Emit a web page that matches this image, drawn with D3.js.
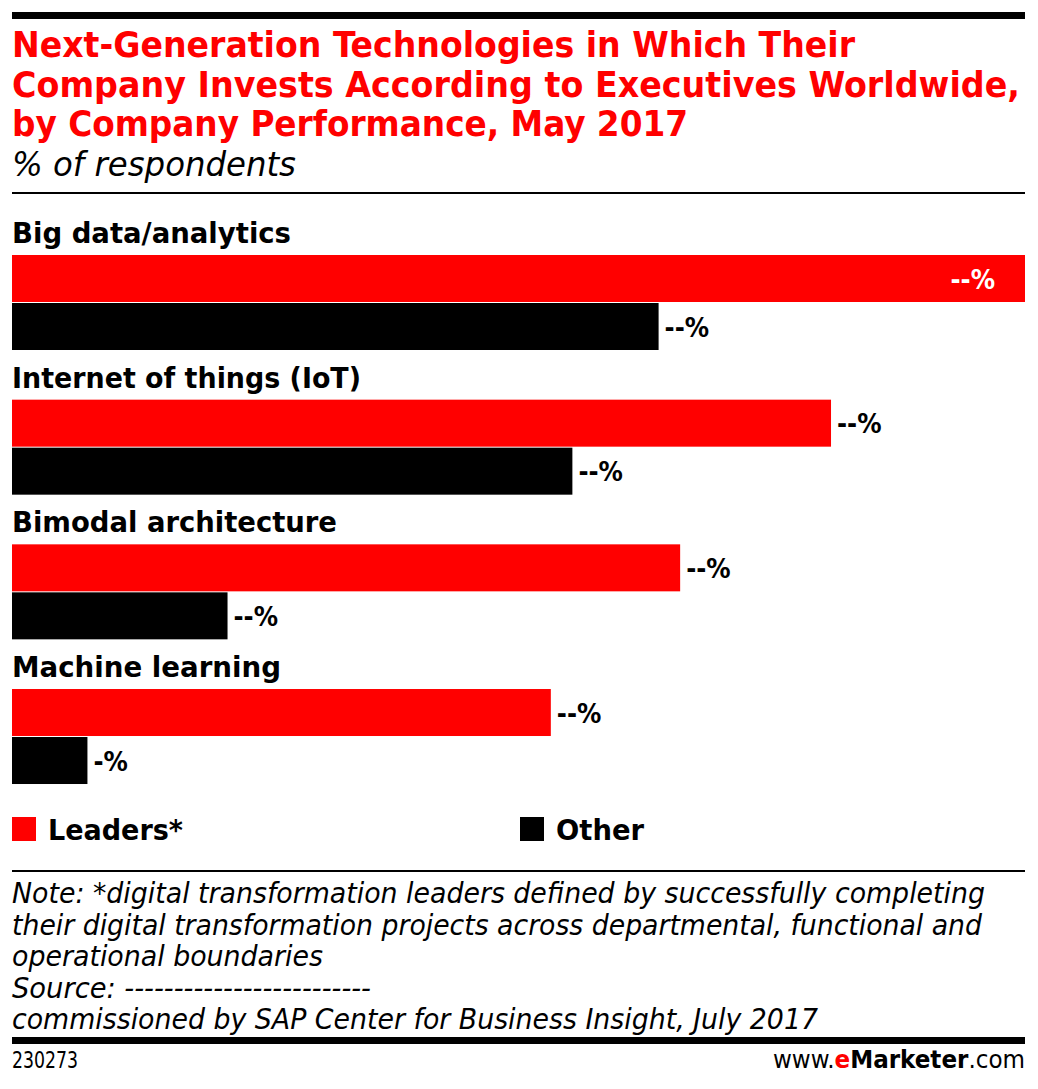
<!DOCTYPE html>
<html><head><meta charset="utf-8">
<script src="https://cdn.jsdelivr.net/npm/d3@7"></script>
<style>
html,body{margin:0;padding:0;background:#fff;}
svg{display:block;}
text{font-family:"Liberation Sans Narrow","DejaVu Sans Condensed","Roboto Condensed",Roboto,sans-serif;}
</style></head>
<body>
<script>
const categories = ["Big data/analytics","Internet of things (IoT)","Bimodal architecture","Machine learning"];
const seriesNames = ["Leaders*","Other"];
const leaders = [94, 76, 62, 50];
const other = [60, 52, 20, 7];
const leaderLabels = ["--%","--%","--%","--%"];
const otherLabels = ["--%","--%","--%","-%"];
const titleLines = ["Next-Generation Technologies in Which Their","Company Invests According to Executives Worldwide,","by Company Performance, May 2017"];
const subtitle = "% of respondents";
const noteLines = ["Note: *digital transformation leaders defined by successfully completing","their digital transformation projects across departmental, functional and","operational boundaries","Source: -------------------------","commissioned by SAP Center for Business Insight, July 2017"];

const W = 1038, H = 1089;
const RED = "#ff0000";
const svg = d3.select("body").append("svg").attr("width", W).attr("height", H);

// top thick rule
svg.append("rect").attr("x",12).attr("y",12).attr("width",1013).attr("height",7).attr("fill","#000");

// title
const titleW = [843, 1008, 676];
const titleY = [57, 97, 136];
titleLines.forEach((t,i)=>{
  svg.append("text").attr("x",12).attr("y",titleY[i]).attr("fill",RED)
    .attr("font-size",35).attr("font-weight","bold")
    .attr("textLength",titleW[i]).attr("lengthAdjust","spacingAndGlyphs").text(t);
});
svg.append("text").attr("x",12).attr("y",176).attr("fill","#000").attr("font-size",33)
  .attr("font-style","italic").attr("textLength",284).attr("lengthAdjust","spacingAndGlyphs").text(subtitle);
svg.append("rect").attr("x",12).attr("y",192).attr("width",1013).attr("height",2).attr("fill","#000");

// scales
const x = d3.scaleLinear().domain([0,94]).range([12,1025]);
const y = d3.scaleBand().domain(categories).range([255, 255+4*144.67]).paddingInner(0).paddingOuter(0);
const barH = 47;
const catW = [279, 349, 325, 269];

const g = svg.append("g");
categories.forEach((c,i)=>{
  const top = y(c);
  g.append("text").attr("x",12).attr("y",top-12).attr("font-size",29).attr("font-weight","bold")
    .attr("fill","#000").attr("textLength",catW[i]).attr("lengthAdjust","spacingAndGlyphs").text(c);
  g.append("rect").attr("x",x(0)).attr("y",top).attr("width",x(leaders[i])-x(0)).attr("height",barH).attr("fill",RED);
  g.append("rect").attr("x",x(0)).attr("y",top+barH+1).attr("width",x(other[i])-x(0)).attr("height",barH).attr("fill","#000");
  const inside = x(leaders[i]) > 980;
  g.append("text")
    .attr("x", inside ? x(leaders[i])-30 : x(leaders[i])+6)
    .attr("y", top+barH/2+10)
    .attr("text-anchor", inside ? "end" : "start")
    .attr("fill", inside ? "#fff" : "#000")
    .attr("font-size",27).attr("font-weight","bold").text(leaderLabels[i]);
  g.append("text")
    .attr("x", x(other[i])+6)
    .attr("y", top+barH+1+barH/2+10)
    .attr("fill","#000").attr("font-size",27).attr("font-weight","bold").text(otherLabels[i]);
});

// legend
const legX = [12, 520];
const legTextW = [135, 88];
seriesNames.forEach((s,i)=>{
  svg.append("rect").attr("x",legX[i]).attr("y",817).attr("width",24).attr("height",24).attr("fill", i===0?RED:"#000");
  svg.append("text").attr("x",legX[i]+36).attr("y",840).attr("font-size",29).attr("font-weight","bold")
    .attr("textLength",legTextW[i]).attr("lengthAdjust","spacingAndGlyphs").text(s);
});

svg.append("rect").attr("x",12).attr("y",870).attr("width",1013).attr("height",2).attr("fill","#000");

// notes
const noteW = [973, 970, 311, 359, 806];
const noteY = [903, 935, 966, 998, 1029];
noteLines.forEach((t,i)=>{
  svg.append("text").attr("x",12).attr("y",noteY[i]).attr("font-size",29).attr("font-style","italic").attr("fill","#000")
    .attr("textLength",noteW[i]).attr("lengthAdjust","spacingAndGlyphs").text(t);
});

svg.append("rect").attr("x",12).attr("y",1037).attr("width",1013).attr("height",7).attr("fill","#000");

svg.append("text").attr("x",12).attr("y",1068).attr("font-size",23).attr("fill","#000")
  .attr("textLength",66).attr("lengthAdjust","spacingAndGlyphs").text("230273");
const brand = svg.append("text").attr("x",773).attr("y",1068).attr("font-size",25).attr("fill","#000")
  .attr("textLength",252).attr("lengthAdjust","spacingAndGlyphs");
brand.append("tspan").text("www.");
brand.append("tspan").attr("fill",RED).attr("font-weight","bold").text("e");
brand.append("tspan").attr("font-weight","bold").text("Marketer");
brand.append("tspan").text(".com");
</script>
</body></html>
